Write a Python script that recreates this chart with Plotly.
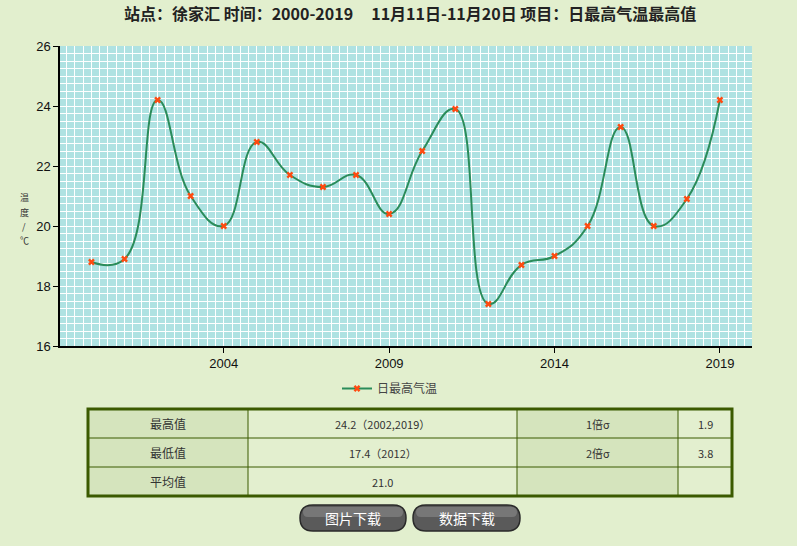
import plotly.graph_objects as go

years = list(range(2000, 2020))
tmax = [18.8, 18.9, 24.2, 21.0, 20.0, 22.8, 21.7, 21.3, 21.7, 20.4,
        22.5, 23.9, 17.4, 18.7, 19.0, 20.0, 23.3, 20.0, 20.9, 24.2]
series_name = "日最高气温"
title_text = "站点：徐家汇 时间：2000-2019\u00a0\u00a0\u00a0\u00a0 11月11日-11月20日 项目：日最高气温最高值"
y_title_chars = ["温", "度", "/", "℃"]
x_ticks = [2004, 2009, 2014, 2019]
y_ticks = [16, 18, 20, 22, 24, 26]

table_rows = [
    ["最高值", "24.2（2002,2019）", "1倍σ", "1.9"],
    ["最低值", "17.4（2012）", "2倍σ", "3.8"],
    ["平均值", "21.0", "", ""],
]
buttons = ["图片下载", "数据下载"]

BG = "#e2efce"
W, H = 797, 546
L, R, T, B = 60, 752, 46, 346  # screen pixels of plot area


def px(x):
    return (x - L) / (R - L)


def py(y):
    return (B - y) / (B - T)


fig = go.Figure()
fig.add_trace(go.Scatter(
    x=years, y=tmax, name=series_name, mode="lines+markers",
    line=dict(color="#2a8c5a", width=2, shape="spline", smoothing=1.3),
    marker=dict(symbol="x", color="#ff4a10", size=6, line=dict(width=0)),
))

shapes = []
annotations = []

# title
annotations.append(dict(text="<b>" + title_text + "</b>", x=px(410), y=py(13), xref="paper", yref="paper",
                        showarrow=False, xanchor="center", yanchor="middle",
                        font=dict(family="Noto Sans CJK SC", size=16, color="#222")))
# y axis title (stacked chars)
for ch, yy in zip(y_title_chars, [198, 212, 226, 240]):
    annotations.append(dict(text=ch, x=px(24), y=py(yy), xref="paper", yref="paper",
                            showarrow=False, xanchor="center", yanchor="middle", borderpad=0,
                            font=dict(family="Noto Sans CJK SC", size=9, color="#333")))

# table
col_edges = [88, 248, 517, 678, 732]
row_edges = [409, 438, 467, 496]
fills = ["#d5e4bd", "#e3efcf", "#d5e4bd", "#e3efcf"]
for ci in range(4):
    shapes.append(dict(type="rect", xref="paper", yref="paper",
                       x0=px(col_edges[ci]), x1=px(col_edges[ci + 1]),
                       y0=py(row_edges[0]), y1=py(row_edges[-1]),
                       fillcolor=fills[ci], line=dict(width=0), layer="below"))
for ri in range(1, 3):
    shapes.append(dict(type="line", xref="paper", yref="paper",
                       x0=px(col_edges[0]), x1=px(col_edges[-1]),
                       y0=py(row_edges[ri]), y1=py(row_edges[ri]),
                       line=dict(color="#3b5a00", width=1)))
for ci in range(1, 4):
    shapes.append(dict(type="line", xref="paper", yref="paper",
                       x0=px(col_edges[ci]), x1=px(col_edges[ci]),
                       y0=py(row_edges[0]), y1=py(row_edges[-1]),
                       line=dict(color="#3b5a00", width=1)))
shapes.append(dict(type="rect", xref="paper", yref="paper",
                   x0=px(col_edges[0]), x1=px(col_edges[-1]),
                   y0=py(row_edges[0]), y1=py(row_edges[-1]),
                   line=dict(color="#3b5a00", width=3)))
for ri, row in enumerate(table_rows):
    yc = (row_edges[ri] + row_edges[ri + 1]) / 2
    for ci, txt in enumerate(row):
        if not txt:
            continue
        xc = (col_edges[ci] + col_edges[ci + 1]) / 2
        annotations.append(dict(text=txt, x=px(xc), y=py(yc), xref="paper", yref="paper",
                                showarrow=False, xanchor="center", yanchor="middle",
                                font=dict(family="Noto Sans CJK SC", size=12 if ci == 0 else 11, color="#333")))


# buttons
def pill(x0, x1, y0, y1):
    r = (y1 - y0) / 2
    return (f"M {px(x0 + r)},{py(y0)} L {px(x1 - r)},{py(y0)} "
            f"Q {px(x1)},{py(y0)} {px(x1)},{py((y0 + y1) / 2)} "
            f"Q {px(x1)},{py(y1)} {px(x1 - r)},{py(y1)} "
            f"L {px(x0 + r)},{py(y1)} "
            f"Q {px(x0)},{py(y1)} {px(x0)},{py((y0 + y1) / 2)} "
            f"Q {px(x0)},{py(y0)} {px(x0 + r)},{py(y0)} Z")


btn_x = [(300, 406), (413, 520)]
for (x0, x1), label in zip(btn_x, buttons):
    shapes.append(dict(type="path", xref="paper", yref="paper", path=pill(x0, x1, 505, 531),
                       fillcolor="#5a5a5a", line=dict(color="#2a2a2a", width=1.5)))
    shapes.append(dict(type="path", xref="paper", yref="paper", path=pill(x0 + 3, x1 - 3, 507, 517),
                       fillcolor="rgba(255,255,255,0.18)", line=dict(width=0)))
    annotations.append(dict(text=label, x=px((x0 + x1) / 2), y=py(518), xref="paper", yref="paper",
                            showarrow=False, xanchor="center", yanchor="middle",
                            font=dict(family="Noto Sans CJK SC", size=14, color="white")))

axis_font = dict(family="Liberation Sans", size=13, color="#111")
fig.update_layout(
    width=W, height=H,
    margin=dict(l=L, r=W - R, t=T, b=H - B),
    paper_bgcolor=BG, plot_bgcolor="#afe2e2",
    showlegend=True,
    legend=dict(orientation="h", x=px(337), y=py(374), xanchor="left", yanchor="top",
                bgcolor="rgba(0,0,0,0)", font=dict(family="Noto Sans CJK SC", size=12, color="#444"),
                itemwidth=30),
    xaxis=dict(range=[1999.05, 2019.97], tickvals=x_ticks, showline=True, linecolor="black", linewidth=1.5,
               ticks="outside", ticklen=5, tickcolor="black", tickfont=axis_font,
               showgrid=True, gridcolor="white", gridwidth=1, zeroline=False,
               minor=dict(dtick=0.25, tick0=1999, showgrid=True, gridcolor="white", gridwidth=1)),
    yaxis=dict(range=[16, 26], tickvals=y_ticks, showline=True, linecolor="black", linewidth=1.5,
               ticks="outside", ticklen=5, tickcolor="black", tickfont=axis_font,
               showgrid=True, gridcolor="white", gridwidth=1, zeroline=False,
               minor=dict(dtick=0.25, showgrid=True, gridcolor="white", gridwidth=1)),
    shapes=shapes, annotations=annotations,
)
post = ("document.body.style.margin='0';document.body.style.overflow='hidden';"
        "document.body.style.background='" + BG + "';")
fig.write_html("out.html", post_script=post, config={"displayModeBar": False})
